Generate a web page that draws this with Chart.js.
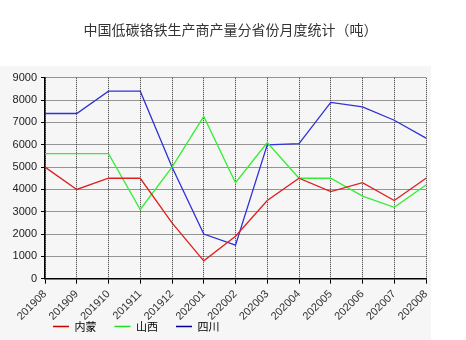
<!DOCTYPE html>
<html>
<head>
<meta charset="utf-8">
<script src="https://cdn.jsdelivr.net/npm/chart.js@4/dist/chart.umd.min.js"></script>
<style>
  html, body { margin: 0; padding: 0; background: #fff; }
  canvas { display: block; }
</style>
</head>
<body>
<canvas id="chart" width="466" height="340"></canvas>
<script>
const months = ['201908', '201909', '201910', '201911', '201912', '202001', '202002',
  '202003', '202004', '202005', '202006', '202007', '202008'];

// 各省月度产量（吨）
const neimeng = [5000, 4000, 4500, 4500, 2500, 800, 1900, 3500, 4500, 3900, 4300, 3500, 4500];
const shanxi = [5600, 5600, 5600, 3100, 5000, 7270, 4300, 6100, 4500, 4500, 3700, 3200, 4200];
const sichuan = [7400, 7400, 8400, 8400, 5000, 2000, 1500, 6000, 6050, 7900, 7700, 7100, 6300];

const yTicks = [0, 1000, 2000, 3000, 4000, 5000, 6000, 7000, 8000, 9000];

const fontFamily = '"Liberation Sans", Arial, "Noto Sans CJK SC", sans-serif';
const cjkFont = '"Noto Sans CJK SC", sans-serif';

// 浅灰背景
const bgPlugin = {
  id: 'bg',
  beforeDraw(chart) {
    const ctx = chart.ctx;
    ctx.save();
    ctx.fillStyle = '#f6f6f6';
    ctx.fillRect(0, 66, chart.chartArea.right + 5, chart.height - 66);
    ctx.restore();
  }
};

// 刻度文字不裁剪（轴框被压缩后仍完整显示）
function noLabelClip(axis) {
  axis._computeLabelArea = () => undefined;
}

new Chart(document.getElementById('chart'), {
  type: 'line',
  data: {
    labels: months,
    datasets: [
      { label: '内蒙', data: neimeng, borderColor: '#dd2020', backgroundColor: '#cc0000' },
      { label: '山西', data: shanxi, borderColor: '#33ee33', backgroundColor: '#22dd22' },
      { label: '四川', data: sichuan, borderColor: '#3030d8', backgroundColor: '#000099' }
    ].map(d => Object.assign(d, { borderWidth: 1.3, pointRadius: 0, tension: 0, fill: false }))
  },
  options: {
    responsive: false,
    animation: false,
    layout: { padding: { left: 35, right: 40, top: 4, bottom: -2 } },
    plugins: {
      title: {
        display: true,
        text: '中国低碳铬铁生产商产量分省份月度统计（吨）',
        color: '#333',
        font: { family: cjkFont, size: 14, weight: 'normal' },
        padding: { top: 17, bottom: 40 }
      },
      legend: {
        position: 'bottom',
        align: 'start',
        labels: {
          usePointStyle: true,
          pointStyle: 'line',
          pointStyleWidth: 16,
          boxHeight: 10,
          padding: 18,
          color: '#333',
          font: { family: cjkFont, size: 11 },
          generateLabels(chart) {
            return chart.data.datasets.map((d, i) => ({
              text: d.label,
              strokeStyle: d.backgroundColor,
              fillStyle: d.backgroundColor,
              lineWidth: 1.5,
              pointStyle: 'line',
              datasetIndex: i
            }));
          }
        }
      },
      tooltip: { enabled: false }
    },
    scales: {
      x: {
        offset: false,
        grid: { color: '#333', tickLength: 5, drawTicks: true, tickBorderDash: [], tickColor: '#000' },
        border: { color: '#000', width: 1.5, dash: [1, 1] },
        ticks: {
          color: '#333',
          font: { family: fontFamily, size: 11 },
          minRotation: 45,
          maxRotation: 45,
          autoSkip: false,
          padding: 4
        },
        afterFit(axis) { axis.height -= 24; noLabelClip(axis); }
      },
      y: {
        min: 0,
        max: 9000,
        afterBuildTicks(axis) { axis.ticks = yTicks.map(v => ({ value: v })); },
        grid: { color: '#333', tickLength: 4, drawTicks: true, tickBorderDash: [], tickColor: '#000' },
        border: { color: '#000', width: 1.5, dash: [1, 1] },
        ticks: {
          color: '#222',
          font: { family: fontFamily, size: 11 },
          padding: 4,
          callback: v => String(v)
        },
        afterFit(axis) { axis.width = 10; noLabelClip(axis); }
      }
    }
  },
  plugins: [bgPlugin]
});
</script>
</body>
</html>
